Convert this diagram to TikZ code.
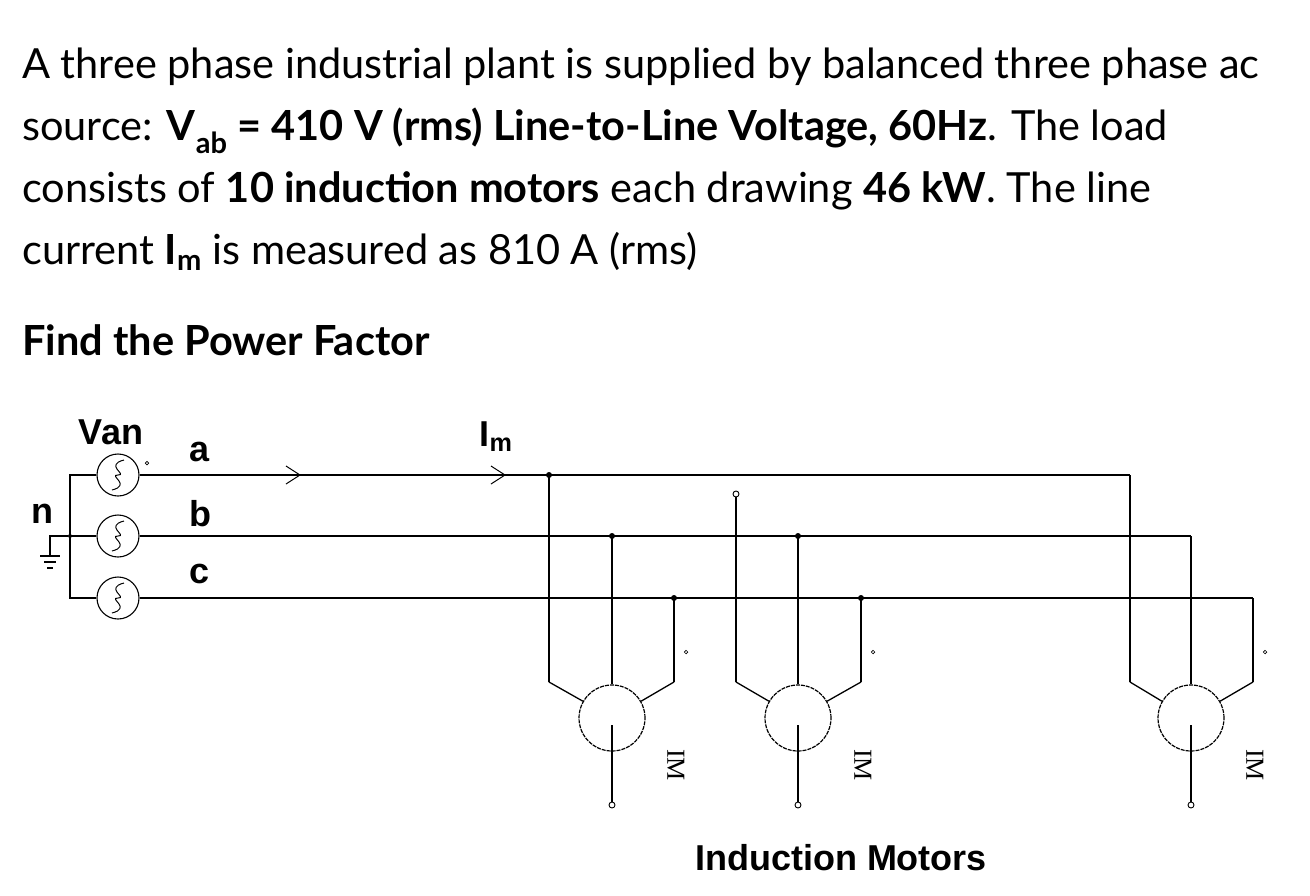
\documentclass[tikz,border=0pt]{standalone}
\usepackage{fontspec}
\setmainfont{Lato}
\newfontfamily\arl{Liberation Sans}
\newfontfamily\tms{Liberation Serif}
\begin{document}
\begin{tikzpicture}[x=1pt,y=-1pt,
  txt/.style={anchor=base west,inner sep=0,font=\fontsize{41.5}{48}\selectfont},
  lbl/.style={inner sep=0,font=\arl\bfseries\fontsize{36}{38}\selectfont},
  wire/.style={line width=1.3pt},
  src/.style={circle,draw,line width=1.1pt,minimum size=42pt,inner sep=0},
  mot/.style={circle,draw,dash pattern=on 4pt off 1pt,line width=1.2pt,minimum size=66pt,inner sep=0},
  dot/.style={circle,fill,inner sep=0,minimum size=6pt},
  term/.style={circle,draw,fill=white,inner sep=0,minimum size=6pt,line width=0.9pt},
  tiny/.style={circle,draw,inner sep=0,minimum size=3.5pt,line width=0.7pt},
  imtxt/.style={inner sep=0,rotate=-90,font=\tms\fontsize{26}{26}\selectfont}]
\useasboundingbox (0,0) rectangle (1310,895);
\node[txt] (l1) at (22,78) {A three phase industrial plant is supplied by balanced three phase ac};
\node[txt] (l2) at (22,140) {source: \textbf{V\textsubscript{ab} = 410 V (rms) Line-to-Line Voltage, 60Hz}. The load};
\node[txt] (l3) at (22,202) {consists of \textbf{10 induction motors} each drawing \textbf{46 kW}. The line};
\node[txt] (l4) at (22,264) {current \textbf{I\textsubscript{m}} is measured as 810 A (rms)};
\node[txt,font=\bfseries\fontsize{41.5}{48}\selectfont] (f) at (22,355) {Find the Power Factor};
% sources
\node[src] (sa) at (118,475) {};
\node[src] (sb) at (118,536) {};
\node[src] (sc) at (118,598) {};
\foreach \s in {sa,sb,sc}{
  \draw[line width=1pt] ([shift={(6,-15)}]\s.center) .. controls ([shift={(-14,-10)}]\s.center) and ([shift={(10,0)}]\s.center) .. (\s.center)
     .. controls ([shift={(-10,0)}]\s.center) and ([shift={(14,10)}]\s.center) .. ([shift={(-6,15)}]\s.center);}
\coordinate (na) at (70,475); \coordinate (nc) at (70,598); \coordinate (nb) at (70,536);
\draw[wire] (sa.west) -- (na) -- (nc) -- (sc.west);
\draw[wire] (nb) -- (sb.west);
\node[dot,minimum size=4pt] (nd) at (nb) {};
\coordinate (g0) at (50,536); \coordinate (g1) at (50,556);
\draw[wire] (nd) -- (g0) -- (g1);
\draw[wire] (40,556) -- (60,556) (44,562) -- (56,562) (47,568) -- (53,568);
\node[tiny] (pa) at (147,463) {};
\node[lbl] (van) at (111,432) {Van};
\node[lbl] (la) at (200,452) {a};
\node[lbl] (lb) at (200,514) {b};
\node[lbl] (lc) at (200,574) {c};
\node[lbl] (ln) at (42,514) {n};
\node[lbl] (im) at (496,437) {I\textsubscript{m}};
\node[lbl] (ind) at (841,858) {Induction Motors};
% lines
\coordinate (aend) at (1130,475);
\coordinate (bend) at (1191,536);
\coordinate (cend) at (1253,598);
\draw[wire] (sa.east) -- (aend);
\draw[wire] (sb.east) -- (bend);
\draw[wire] (sc.east) -- (cend);
\foreach \x in {300,505}{\draw[line width=1pt] (\x-14,466) -- (\x,475) -- (\x-14,484);}
% motors
\foreach \i/\xl/\xm/\xr in {1/549/612/674,2/736/798/861,3/1130/1191/1253}{
  \node[mot] (m\i) at (\xm,718) {};
  \node[term] (t\i) at (\xm,805) {};
  \coordinate (cl\i) at (\xl,682);
  \coordinate (cr\i) at (\xr,682);
  \draw[wire] (cl\i) -- (m\i.150);
  \draw[wire] (cr\i) -- (m\i.30);
  \draw[wire] (\xm,536) -- (m\i.north);
  \draw[wire] (\xr,598) -- (cr\i);
  \draw[wire] (\xm,725) -- (t\i.north);
  \node[tiny] (o\i) at (\xr+12,652) {};
  \node[imtxt] (n\i) at (\xr+2,765) {IM};
}
\draw[wire] (549,475) -- (cl1);
\node[term] (top2) at (736,494) {};
\draw[wire] (top2.south) -- (cl2);
\draw[wire] (aend) -- (cl3);
\node[dot] at (549,475) {};
\node[dot] at (612,536) {};
\node[dot] at (674,598) {};
\node[dot] at (798,536) {};
\node[dot] at (861,598) {};
\end{tikzpicture}
\end{document}
